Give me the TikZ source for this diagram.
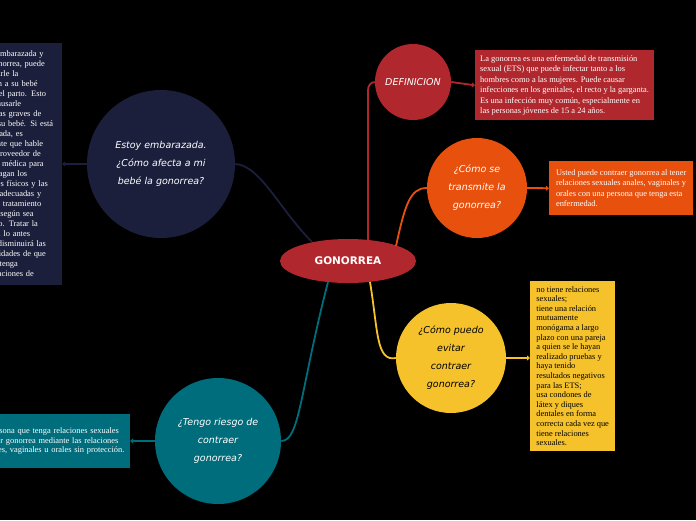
\documentclass[tikz,border=0pt]{standalone}
\usepackage{fontspec}
\setmainfont{Liberation Serif}
\newfontfamily\hand{DejaVu Sans}
\usetikzlibrary{shapes.geometric,arrows.meta}
\definecolor{cred}{HTML}{B0282D}
\definecolor{corange}{HTML}{E8500E}
\definecolor{cyellow}{HTML}{F5C22C}
\definecolor{cnavy}{HTML}{1B1F3B}
\definecolor{cteal}{HTML}{006D7C}
\tikzset{
 circ/.style={circle,inner sep=0pt,text=white,font=\hand\itshape\fontsize{9.5}{18}\selectfont,align=center},
 infobox/.style={inner sep=5pt,text=white,font=\fontsize{8.4}{9.6}\selectfont,align=left},
 link/.style={line width=1.8pt},
 tip/.style={-{Triangle[length=3pt,width=5pt]}},
}
\begin{document}
\begin{tikzpicture}[x=1pt,y=-1pt]
\fill[black] (0,0) rectangle (696,520);
\useasboundingbox (0,0) rectangle (696,520);
% central
\node[ellipse,fill=cred,minimum width=136,minimum height=44,text=white,font=\hand\bfseries\fontsize{10.5}{12}\selectfont] (g) at (348,261) {GONORREA};
% circles
\node[circ,fill=cred,minimum size=76] (def) at (413,82) {DEFINICION};
\node[circ,fill=corange,minimum size=100] (tr) at (477,188) {¿Cómo se\\transmite la\\gonorrea?};
\node[circ,fill=cyellow,minimum size=110,text=black] (ev) at (451,358) {¿Cómo puedo\\evitar\\contraer\\gonorrea?};
\node[circ,fill=cnavy,minimum size=148] (em) at (161,164) {Estoy embarazada.\\¿Cómo afecta a mi\\bebé la gonorrea?};
\node[circ,fill=cteal,minimum size=126] (ri) at (218,441) {¿Tengo riesgo de\\contraer\\gonorrea?};
% boxes
\node[infobox,fill=cred,anchor=north west,font=\fontsize{8.4}{10.5}\selectfont] (bdef) at (475,50) {La gonorrea es una enfermedad de transmisión\\sexual (ETS) que puede infectar tanto a los\\hombres como a las mujeres. Puede causar\\infecciones en los genitales, el recto y la garganta.\\Es una infección muy común, especialmente en\\las personas jóvenes de 15 a 24 años.};
\node[infobox,fill=corange,anchor=north west,minimum width=144,minimum height=54,font=\fontsize{8.4}{10.5}\selectfont] (btr) at (549,161) {Usted puede contraer gonorrea al tener\\relaciones sexuales anales, vaginales y\\orales con una persona que tenga esta\\enfermedad.};
\node[infobox,fill=cyellow,text=black,anchor=north west,minimum width=85,minimum height=166] (bev) at (530,281) {no tiene relaciones\\sexuales;\\tiene una relación\\mutuamente\\monógama a largo\\plazo con una pareja\\a quien se le hayan\\realizado pruebas y\\haya tenido\\resultados negativos\\para las ETS;\\usa condones de\\látex y diques\\dentales en forma\\correcta cada vez que\\tiene relaciones\\sexuales.};
\node[infobox,fill=cnavy,anchor=north east,minimum height=242,text width=86,font=\fontsize{8.4}{10}\selectfont] (bem) at (62,43) {Si está embarazada y\\tiene gonorrea, puede\\transmitirle la\\infección a su bebé\\durante el parto. Esto\\puede causarle\\problemas graves de\\salud a su bebé. Si está\\embarazada, es\\importante que hable\\con su proveedor de\\atención médica para\\que le hagan los\\exámenes físicos y las\\pruebas adecuadas y\\reciba el tratamiento\\médico, según sea\\necesario. Tratar la\\gonorrea lo antes\\posible disminuirá las\\probabilidades de que\\su bebé tenga\\complicaciones de};
\node[infobox,fill=cteal,anchor=north east,minimum height=54,text width=172] (bri) at (130,414) {Cualquier persona que tenga relaciones sexuales\\puede contraer gonorrea mediante las relaciones\\sexuales anales, vaginales u orales sin protección.};
% connectors
\coordinate (a1) at (368,242);
\coordinate (a2) at (396,246);
\coordinate (a3) at (370,282);
\coordinate (a4) at (312,242);
\coordinate (a5) at (328,282);
\draw[link,cred] (a1) -- (368,90) to[out=90,in=180] (def.west);
\draw[link,corange] (a2) .. controls (405,205) and (410,188) .. (tr.west);
\draw[link,cyellow] (a3) .. controls (378,330) and (376,362) .. (ev.west);
\draw[link,cnavy] (a4) .. controls (280,210) and (260,165) .. (em.east);
\draw[link,cteal] (a5) .. controls (300,390) and (300,441) .. (ri.east);
\draw[link,cred,tip] (def.east) -- (bdef.west);
\draw[link,corange,tip] (tr.east) -- (btr.west);
\draw[link,cyellow,tip] (ev.east) -- (bev.west |- ev.east);
\draw[link,cnavy,tip] (em.west) -- (bem.east |- em.west);
\draw[link,cteal,tip] (ri.west) -- (bri.east |- ri.west);
\end{tikzpicture}
\end{document}
